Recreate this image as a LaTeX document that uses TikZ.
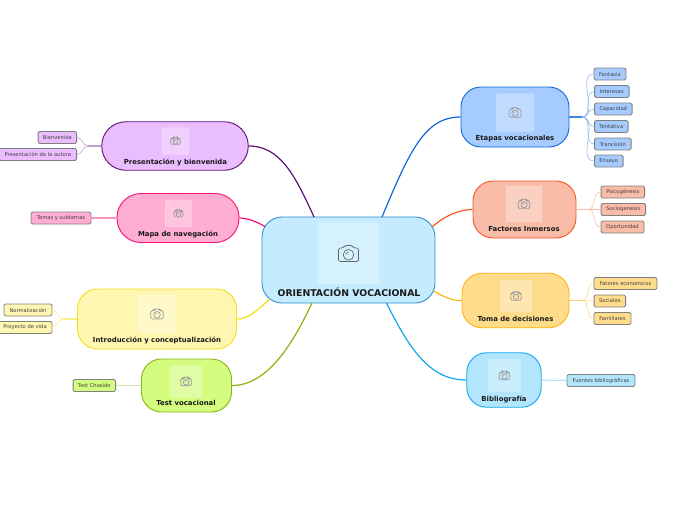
\documentclass[tikz,border=0pt]{standalone}
\usepackage{xcolor}
\usepackage{fontspec}
\usepackage{tikz}
\setmainfont{DejaVu Sans}

\definecolor{mainfill}{HTML}{C5EBFE}
\definecolor{mainline}{HTML}{2A8FD0}
\definecolor{etapasfill}{HTML}{A6CCFF}
\definecolor{etapasline}{HTML}{0F67D8}
\definecolor{factoresfill}{HTML}{F9BCA8}
\definecolor{factoresline}{HTML}{F5571F}
\definecolor{tomafill}{HTML}{FFDC8C}
\definecolor{tomaline}{HTML}{FFB30F}
\definecolor{bibliofill}{HTML}{B2E6FD}
\definecolor{biblioline}{HTML}{0FA8EE}
\definecolor{presentafill}{HTML}{EABDFF}
\definecolor{presentaline}{HTML}{5C1178}
\definecolor{mapafill}{HTML}{FFADD2}
\definecolor{mapaline}{HTML}{F8106F}
\definecolor{introfill}{HTML}{FFF6B2}
\definecolor{introline}{HTML}{F7DC1A}
\definecolor{testfill}{HTML}{D4FC7F}
\definecolor{testline}{HTML}{8AB510}

\tikzset{
  topicbox/.style 2 args={draw=#2, fill=#1, line width=.9pt, rounded corners=20pt, inner sep=0pt},
  thumbbox/.style={fill=white, fill opacity=.3, draw=white, draw opacity=.25, rounded corners=2pt, inner sep=0pt},
  topictitle/.style={font=\fontsize{6.9}{8}\selectfont\bfseries, inner sep=0pt, text=black!90},
  leafbox/.style={draw=black!50, fill=#1, line width=.9pt, rounded corners=1.5pt, minimum height=12pt, inner sep=0pt,
                  font=\fontsize{5.2}{6}\selectfont, text=black!75},
  branch/.style={line width=1.1pt, color=#1},
  twig/.style={line width=.6pt, color=#1},
  pics/camicon/.style={code={
      \draw[line width=.7pt, rounded corners=1.5pt] (-10,-5.5) -- (-5,-5.5) -- (-4,-8) -- (4,-8) -- (5,-5.5) -- (10,-5.5) -- (10,8) -- (-10,8) -- cycle;
      \draw[line width=.7pt] (0,1.3) circle (5.3);
      \draw[line width=.5pt] (-2.5,1.3) .. controls (-2.5,-.5) and (-1.5,-1.5) .. (0,-1.5);
  }}
}

\begin{document}
\begin{tikzpicture}[x=1pt, y=-1pt]
             \useasboundingbox (0,0) rectangle (697,520);

             \node[topicbox={mainfill}{mainline}, minimum width=173pt, minimum height=86pt] (orientacion) at (348.5,260) {};
             \node[topicbox={etapasfill}{etapasline}, minimum width=108pt, minimum height=60pt] (etapas) at (515,117) {};
             \node[topicbox={factoresfill}{factoresline}, minimum width=103pt, minimum height=57pt] (factores) at (524.5,209.5) {};
             \node[topicbox={tomafill}{tomaline}, minimum width=107pt, minimum height=54.5pt] (toma) at (515.5,300.5) {};
             \node[topicbox={bibliofill}{biblioline}, minimum width=74.5pt, minimum height=54.5pt] (biblio) at (504,380) {};
             \node[topicbox={presentafill}{presentaline}, rounded corners=24pt, minimum width=146.5pt, minimum height=48.5pt] (presenta) at (175,146) {};
             \node[topicbox={mapafill}{mapaline}, rounded corners=24pt, minimum width=122pt, minimum height=49pt] (mapa) at (178,218) {};
             \node[topicbox={introfill}{introline}, minimum width=159pt, minimum height=60pt] (intro) at (157,319) {};
             \node[topicbox={testfill}{testline}, minimum width=90pt, minimum height=53pt] (test) at (186.5,385.5) {};

             \node[thumbbox, minimum size=61pt] (orientacionthumb) at (348.5,253.5) {};
             \node[thumbbox, minimum size=38pt] (etapasthumb) at (515,112.5) {};
             \node[thumbbox, minimum size=36pt] (factoresthumb) at (524,204) {};
             \node[thumbbox, minimum size=32pt] (tomathumb) at (516,296) {};
             \node[thumbbox, minimum size=33pt] (bibliothumb) at (504.5,375.5) {};
             \node[thumbbox, minimum size=27pt] (presentathumb) at (175.5,141) {};
             \node[thumbbox, minimum size=27pt] (mapathumb) at (178.5,213.5) {};
             \node[thumbbox, minimum size=38pt] (introthumb) at (157,314) {};
             \node[thumbbox, minimum size=32pt] (testthumb) at (186,381.5) {};

             \pic[scale=1, draw=black!60] at (orientacionthumb) {camicon};
             \foreach \topic/\size in {etapas/.6, factores/.58, toma/.53, biblio/.53, presenta/.47, mapa/.45, intro/.62, test/.53}
               \pic[scale=\size, draw=black!40] at (\topic thumb) {camicon};

             \node[topictitle, font=\fontsize{9.3}{10}\selectfont\bfseries] (orientaciontitle) at (349,292.5) {ORIENTACIÓN VOCACIONAL};
             \node[topictitle] (etapastitle) at (515,139) {Etapas vocacionales};
             \node[topictitle] (factorestitle) at (524,229) {Factores Inmersos};
             \node[topictitle] (tomatitle) at (515.5,319) {Toma de decisiones};
             \node[topictitle] (bibliotitle) at (504,399) {Bibliografía};
             \node[topictitle] (presentatitle) at (175.5,162) {Presentación y bienvenida};
             \node[topictitle] (mapatitle) at (178,234) {Mapa de navegación};
             \node[topictitle] (introtitle) at (157,340) {Introducción y conceptualización};
             \node[topictitle] (testtitle) at (186,403) {Test vocacional};

             \node[leafbox=etapasfill, minimum width=32pt] (fantasia) at (610,74) {Fantasía};
             \node[leafbox=etapasfill, minimum width=34.5pt] (intereses) at (611.8,91.5) {Intereses};
             \node[leafbox=etapasfill, minimum width=37.5pt] (capacidad) at (613.3,109) {Capacidad};
             \node[leafbox=etapasfill, minimum width=33.5pt] (tentativa) at (611.3,126.5) {Tentativa};
             \node[leafbox=etapasfill, minimum width=36.5pt] (trancision) at (612.8,144) {Trancisión};
             \node[leafbox=etapasfill, minimum width=28.5pt] (ensayo) at (608.8,161) {Ensayo};
             \node[leafbox=factoresfill, minimum width=43.5pt] (psicogenesis) at (622.8,192) {Psicogénesis};
             \node[leafbox=factoresfill, minimum width=44.5pt] (sociogenesis) at (623.3,209.5) {Sociogenesis};
             \node[leafbox=factoresfill, minimum width=43pt] (oportunidad) at (622.5,227) {Oportunidad};
             \node[leafbox=tomafill, minimum width=63pt] (fatores) at (625.5,283.5) {Fatores economicos};
             \node[leafbox=tomafill, minimum width=31.5pt] (sociales) at (609.8,301) {Sociales};
             \node[leafbox=tomafill, minimum width=37pt] (familiares) at (612.5,318.5) {Familiares};
             \node[leafbox=bibliofill, minimum width=68pt] (fuentes) at (601,380.5) {Fuentes bibliográficas};
             \node[leafbox=presentafill, minimum width=38.5pt] (bienvenida) at (57.3,137.5) {Bienvenida};
             \node[leafbox=presentafill, minimum width=77.5pt] (autora) at (37.8,154.5) {Presentación de la autora};
             \node[leafbox=mapafill, minimum width=60pt] (temas) at (61,218) {Temas y subtemas};
             \node[leafbox=introfill, minimum width=48pt] (normalizacion) at (28,310) {Normalización};
             \node[leafbox=introfill, minimum width=54pt] (proyecto) at (25,327.5) {Proyecto de vida};
             \node[leafbox=testfill, minimum width=42.5pt] (chaside) at (94.3,385.5) {Test Chaside};

             \draw[line width=1.2pt, etapasline] ([shift={(33.5,-43)}]orientacion.center) .. controls (410,150) and (425,117) .. (etapas.west);
             \draw[line width=1.2pt, factoresline] ([shift={(84,-33.5)}]orientacion.center) .. controls (440,220) and (455,209.5) .. (factores.west);
             \draw[line width=1.2pt, tomaline] ([shift={(85,31)}]orientacion.center) .. controls (445,297) and (450,300.5) .. (toma.west);
             \draw[line width=1.2pt, biblioline] ([shift={(38,43)}]orientacion.center) .. controls (410,350) and (430,380) .. (biblio.west);
             \draw[line width=1.2pt, presentaline] ([shift={(-34.5,-43)}]orientacion.center) .. controls (295,175) and (280,146) .. (presenta.east);
             \draw[line width=1.2pt, mapaline] ([shift={(-83.5,-33.5)}]orientacion.center) .. controls (257,222) and (248,218) .. (mapa.east);
             \draw[line width=1.2pt, introline] ([shift={(-78.5,39)}]orientacion.center) .. controls (255,312) and (248,319) .. (intro.east);
             \draw[line width=1.2pt, testline] ([shift={(-36.5,43)}]orientacion.center) .. controls (290,350) and (265,385.5) .. (test.east);

             \coordinate (etapasfork) at (582,117);
             \coordinate (factoresfork) at (588,209.5);
             \coordinate (tomafork) at (582,300.5);
             \coordinate (presentafork) at (88,146);
             \coordinate (introfork) at (63,319);

             \draw[branch=etapasline!80, line width=1.6pt] (etapas.east) -- (etapasfork);
             \draw[branch=factoresline!40] (factores.east) -- (factoresfork);
             \draw[branch=tomaline!60] (toma.east) -- (tomafork);
             \draw[branch=presentaline!40] (presenta.west) -- (presentafork);
             \draw[branch=introline!50] (intro.west) -- (introfork);
             \draw[branch=biblioline!35] (biblio.east) -- (fuentes.west);
             \draw[branch=mapaline!45] (mapa.west) -- (temas.east);
             \draw[branch=testline!35] (test.west) -- (chaside.east);

             \foreach \leaf in {fantasia, intereses, capacidad, tentativa, trancision, ensayo}
               \draw[twig=etapasline!45] (etapasfork) to[out=0, in=180] (\leaf.west);
             \foreach \leaf in {psicogenesis, sociogenesis, oportunidad}
               \draw[twig=factoresline!40] (factoresfork) to[out=0, in=180] (\leaf.west);
             \foreach \leaf in {fatores, sociales, familiares}
               \draw[twig=tomaline!50] (tomafork) to[out=0, in=180] (\leaf.west);
             \foreach \leaf in {bienvenida, autora}
               \draw[twig=presentaline!40] (presentafork) to[out=180, in=0] (\leaf.east);
             \foreach \leaf in {normalizacion, proyecto}
               \draw[twig=introline!50] (introfork) to[out=180, in=0] (\leaf.east);
\end{tikzpicture}
\end{document}
